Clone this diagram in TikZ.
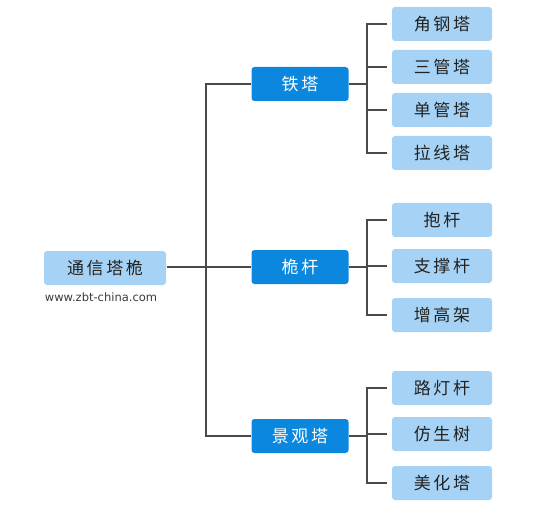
\documentclass[tikz,border=0pt]{standalone}
\usepackage{fontspec}
\setsansfont{DejaVu Sans}
\newfontfamily\cjk[LetterSpace=15]{Noto Sans CJK SC}
\usetikzlibrary{positioning}
\definecolor{ink}{HTML}{222222}
\definecolor{ink2}{HTML}{3A3A3A}
\definecolor{wire}{HTML}{4A4A4A}
\definecolor{cblue}{HTML}{0B88DD}
\definecolor{lblue}{HTML}{A6D3F5}
\tikzset{
  every picture/.style={line width=1.2pt},
  bx/.style={rounded corners=3pt,align=center,inner sep=0pt,minimum height=34pt,
    font=\cjk\fontsize{17}{19}\selectfont},
  bxr/.style={bx,fill=lblue,text=ink,minimum width=122pt},
  bxm/.style={bx,fill=cblue,text=white,minimum width=97pt},
  bxl/.style={bx,fill=lblue,text=ink,minimum width=100pt},
  ln/.style={draw=wire},
  url/.style={font=\sffamily\fontsize{11.5}{13}\selectfont,text=ink2},
}
\begin{document}
\begin{tikzpicture}[x=1pt,y=-1pt]
  \useasboundingbox (0,0) rectangle (553,510);
  \node[bxr] (root) at (105,268) {通信塔桅};
  \node[url] (web) at (101,297) {www.zbt-china.com};
  \node[bxm] (t1) at (300,84) {铁塔};
  \node[bxm] (t2) at (300,267) {桅杆};
  \node[bxm] (t3) at (300,436) {景观塔};
  \node[bxl] (a1) at (442,24) {角钢塔};
  \node[bxl] (a2) at (442,67) {三管塔};
  \node[bxl] (a3) at (442,110) {单管塔};
  \node[bxl] (a4) at (442,153) {拉线塔};
  \node[bxl] (b1) at (442,220) {抱杆};
  \node[bxl] (b2) at (442,266) {支撑杆};
  \node[bxl] (b3) at (442,315) {增高架};
  \node[bxl] (c1) at (442,388) {路灯杆};
  \node[bxl] (c2) at (442,434) {仿生树};
  \node[bxl] (c3) at (442,483) {美化塔};
  \coordinate (tk) at (206,267);
  \coordinate (ka) at (367,84);
  \coordinate (kb) at (367,267);
  \coordinate (kc) at (367,436);
  \draw[ln] (root.east |- tk) -- (tk);
  \draw[ln] (t1.west) -| (tk) |- (t3.west);
  \draw[ln] (tk) -- (t2.west);
  \draw[ln] (t1.east) -- (ka);
  \draw[ln,shorten <=4pt] (a1.west) -| (ka);
  \draw[ln,shorten <=4pt] (a2.west) -| (ka);
  \draw[ln,shorten <=4pt] (a3.west) -| (ka);
  \draw[ln,shorten <=4pt] (a4.west) -| (ka);
  \draw[ln] (t2.east) -- (kb);
  \draw[ln,shorten <=4pt] (b1.west) -| (kb);
  \draw[ln,shorten <=4pt] (b2.west) -| (kb);
  \draw[ln,shorten <=4pt] (b3.west) -| (kb);
  \draw[ln] (t3.east) -- (kc);
  \draw[ln,shorten <=4pt] (c1.west) -| (kc);
  \draw[ln,shorten <=4pt] (c2.west) -| (kc);
  \draw[ln,shorten <=4pt] (c3.west) -| (kc);
\end{tikzpicture}
\end{document}
